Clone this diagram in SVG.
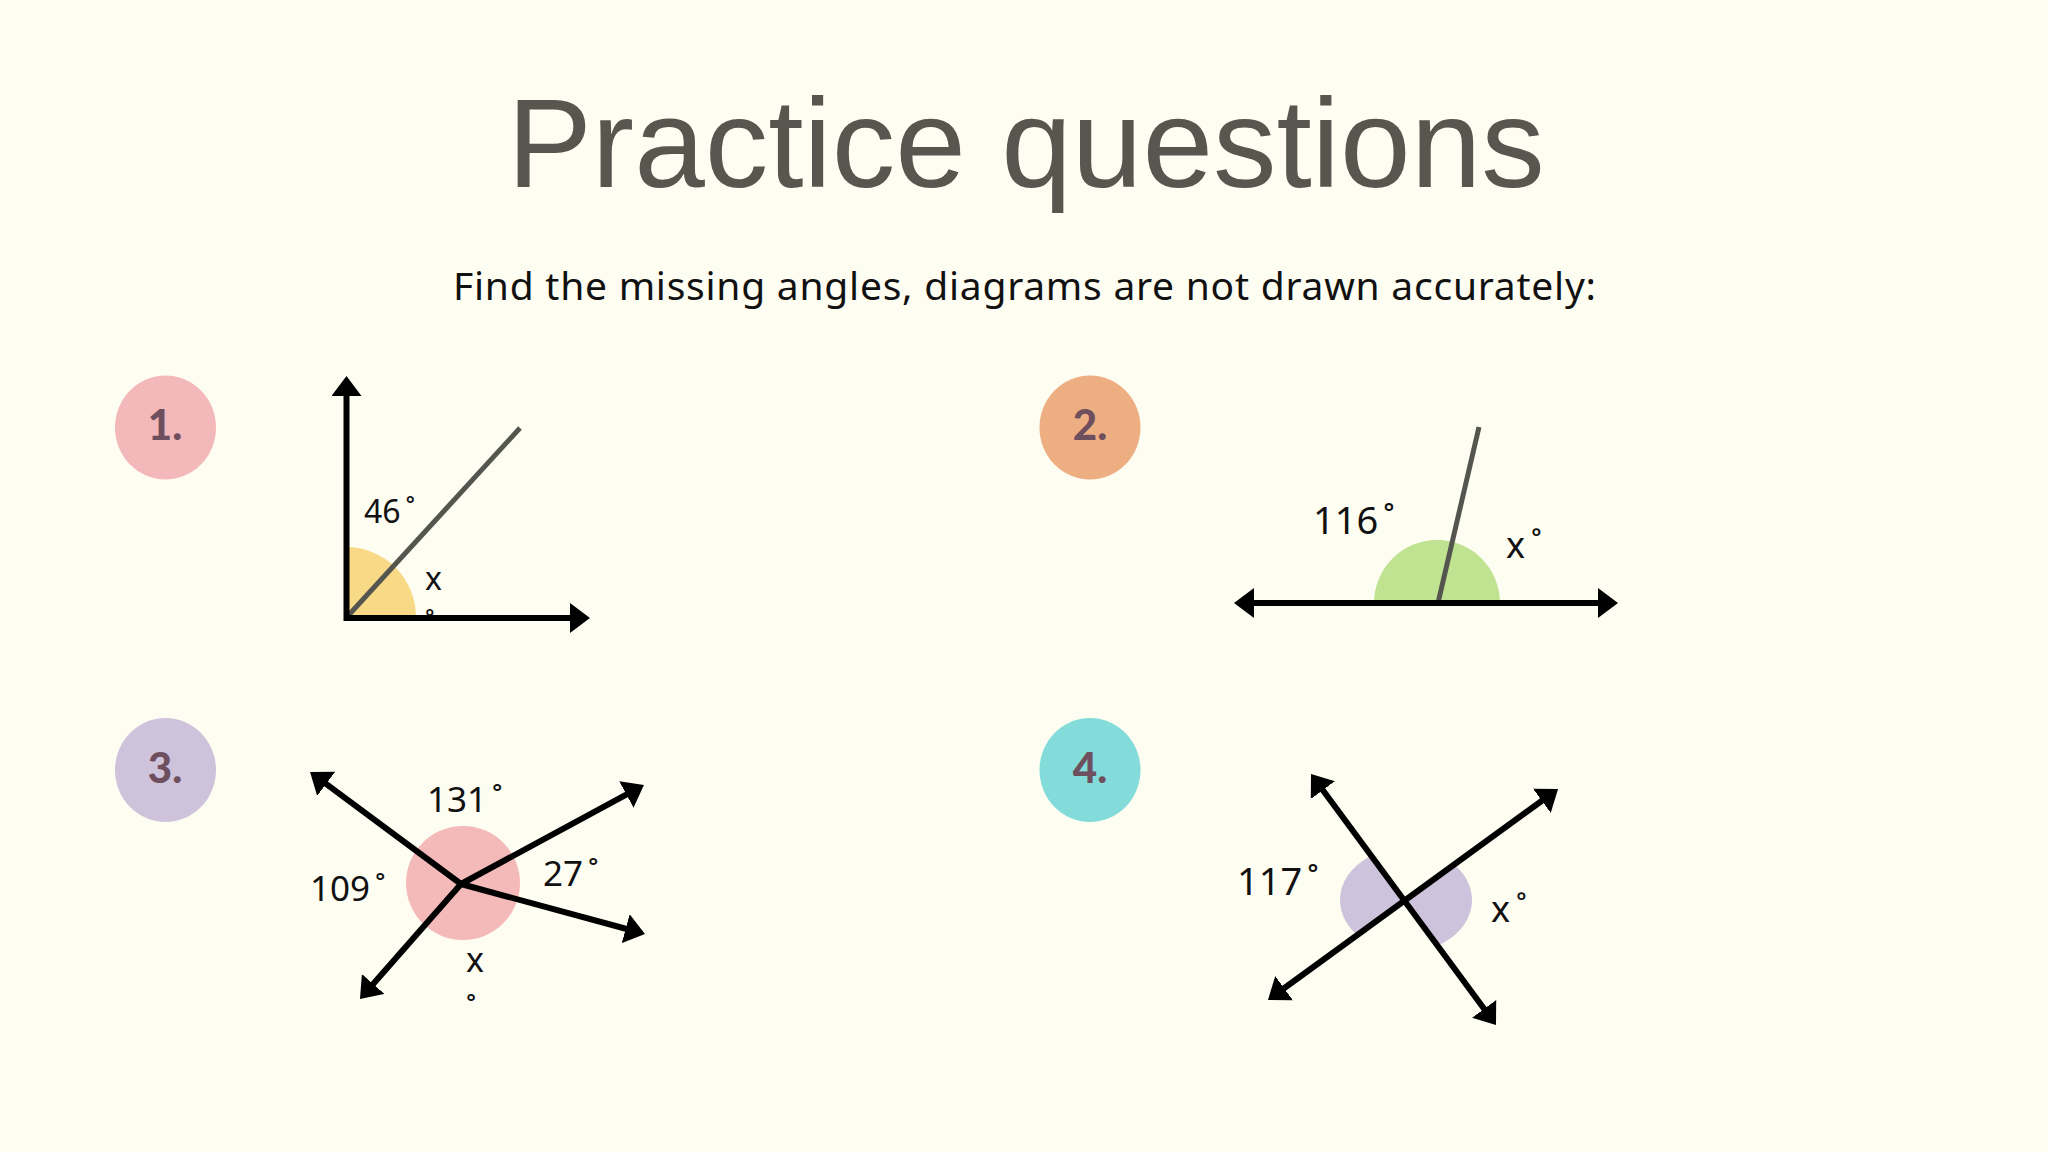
<svg xmlns="http://www.w3.org/2000/svg" width="2048" height="1152" viewBox="0 0 2048 1152">
<style>
.title{font-family:"Liberation Sans",Arial,sans-serif;font-size:127px;fill:#575750;}
.sub{font-family:"Noto Sans",sans-serif;font-size:39px;fill:#111;}
.badge{font-family:Lato,"Noto Sans",sans-serif;font-weight:900;font-size:42px;fill:#6e4f5e;text-anchor:middle;}
.lbl{font-family:"Noto Sans",sans-serif;fill:#111;}
.blk{stroke:#000;stroke-width:6;fill:none;}
.gry{stroke:#55554f;stroke-width:5;fill:none;}
</style>
<defs>
<marker id="ah" markerUnits="userSpaceOnUse" viewBox="0 0 20 30" markerWidth="20" markerHeight="30" refX="3" refY="15" orient="auto-start-reverse">
<path d="M0,0 L20,15 L0,30 Z" fill="#000"/>
</marker>
</defs>
<rect width="2048" height="1152" fill="#fefdf1"/>
<text class="title" x="1026" y="187" text-anchor="middle">Practice questions</text>
<text class="sub" x="453" y="300" textLength="1143">Find the missing angles, diagrams are not drawn accurately:</text>

<g id="badge1"><ellipse cx="165.5" cy="427.5" rx="50.5" ry="52" fill="#f3b8b9"/><text class="badge" x="165" y="440">1.</text></g>
<g id="badge2"><ellipse cx="1090" cy="427.5" rx="50.5" ry="52" fill="#edae82"/><text class="badge" x="1090" y="440">2.</text></g>
<g id="badge3"><ellipse cx="165.5" cy="770" rx="50.5" ry="52" fill="#cfc3dc"/><text class="badge" x="165" y="783">3.</text></g>
<g id="badge4"><ellipse cx="1090" cy="770" rx="50.5" ry="52" fill="#83dcd9"/><text class="badge" x="1090" y="783">4.</text></g>

<g id="q1">
<path d="M346,618 L346,547 A70,70 0 0 1 416,618 Z" fill="#f8d985"/>
<line class="gry" x1="346" y1="618" x2="520" y2="428"/>
<text class="lbl" x="364" y="523" font-size="32">46<tspan dx="5">˚</tspan></text>
<text class="lbl" x="425" y="590" font-size="32">x</text>
<text class="lbl" x="425" y="636" font-size="32">˚</text>
</g>
<g id="q2">
<path d="M1374,603 A63,63 0 0 1 1500,603 Z" fill="#bfe390"/>
<line class="gry" x1="1438" y1="603" x2="1479" y2="427"/>
<text class="lbl" x="1313" y="534" font-size="38">116<tspan dx="5">˚</tspan></text>
<text class="lbl" x="1506" y="558" font-size="36">x<tspan dx="6">˚</tspan></text>
</g>
<g id="q3">
<circle cx="463" cy="883" r="57" fill="#f4b9b9"/>
<text class="lbl" x="427" y="812" font-size="35">131<tspan dx="5">˚</tspan></text>
<text class="lbl" x="543" y="886" font-size="35">27<tspan dx="5">˚</tspan></text>
<text class="lbl" x="310" y="901" font-size="35">109<tspan dx="5">˚</tspan></text>
<text class="lbl" x="466" y="972" font-size="34">x</text>
<text class="lbl" x="466" y="1022" font-size="34">˚</text>
</g>
<g id="q4">
<path d="M1406,900 L1372.9,855 A66,52 0 0 0 1357.5,935.3 Z" fill="#cec3dd"/>
<path d="M1406,900 L1454.5,864.7 A66,52 0 0 1 1439.1,945 Z" fill="#cec3dd"/>
<text class="lbl" x="1237" y="895" font-size="38">117<tspan dx="5">˚</tspan></text>
<text class="lbl" x="1491" y="922" font-size="36">x<tspan dx="6">˚</tspan></text>
</g>

<g id="connectors">
<polyline class="blk" points="346.5,393 346.5,618 573,618" stroke-linejoin="miter" marker-start="url(#ah)" marker-end="url(#ah)"/>
<line class="blk" x1="1251" y1="603" x2="1601" y2="603" marker-start="url(#ah)" marker-end="url(#ah)"/>
<line class="blk" x1="461" y1="884" x2="323.7" y2="782.1" marker-end="url(#ah)"/>
<line class="blk" x1="461" y1="884" x2="629" y2="793.1" marker-end="url(#ah)"/>
<line class="blk" x1="461" y1="884" x2="628.6" y2="929.5" marker-end="url(#ah)"/>
<line class="blk" x1="461" y1="884" x2="371.2" y2="986.2" marker-end="url(#ah)"/>
<line class="blk" x1="1321.1" y1="787.7" x2="1485.9" y2="1011.3" marker-start="url(#ah)" marker-end="url(#ah)"/>
<line class="blk" x1="1281.7" y1="990" x2="1544.3" y2="799" marker-start="url(#ah)" marker-end="url(#ah)"/>
</g>
</svg>
